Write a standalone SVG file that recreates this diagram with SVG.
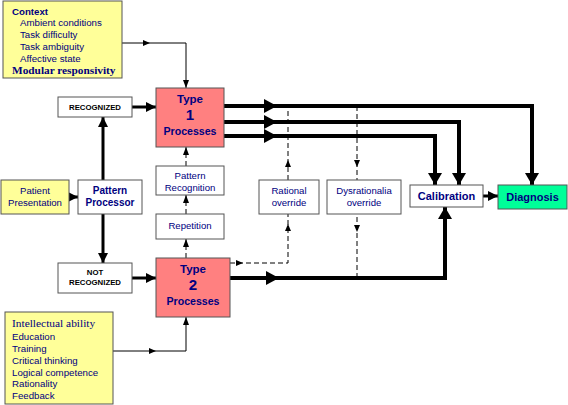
<svg xmlns="http://www.w3.org/2000/svg" width="568" height="405" viewBox="0 0 568 405">
<style>
.box{stroke:#555;stroke-width:1}
.w{fill:#fff}
.y{fill:#ffff99}
.r{fill:#ff8080}
.g{fill:#00ff99}
text{font-family:"Liberation Sans",Arial,sans-serif;fill:#000080}
.c{text-anchor:middle}
.b{font-weight:bold}
.s{font-size:9.6px}
.k{fill:#000;font-size:7.8px;font-weight:bold}
.tm{font-family:"Liberation Serif","Times New Roman",serif}
.thin{fill:none;stroke:#000;stroke-width:1}
.mid{fill:none;stroke:#000;stroke-width:3}
.thick{fill:none;stroke:#000;stroke-width:4}
.dash{fill:none;stroke:#000;stroke-width:1;stroke-dasharray:5 3}
.ah{fill:#000}
</style>
<defs>
<marker id="aS" viewBox="0 0 8 6" refX="8" refY="3" markerWidth="8" markerHeight="6" markerUnits="userSpaceOnUse" orient="auto"><path d="M0,0 L8,3 L0,6 z" fill="#000"/></marker>
<marker id="aM" viewBox="0 0 10 10" refX="10" refY="5" markerWidth="10" markerHeight="10" markerUnits="userSpaceOnUse" orient="auto"><path d="M0,0 L10,5 L0,10 z" fill="#000"/></marker>
<marker id="aL" viewBox="0 0 12 14" refX="12" refY="7" markerWidth="12" markerHeight="14" markerUnits="userSpaceOnUse" orient="auto"><path d="M0,0 L12,7 L0,14 z" fill="#000"/></marker>
</defs>

<g id="connectors">
<path class="thin" d="M122,43 H186 V88" marker-end="url(#aS)"/>
<path class="ah" d="M143,40 L150,43 L143,46 z"/>
<path class="thin" d="M113,351 H186 V317" marker-end="url(#aS)"/>
<path class="ah" d="M149,348 L156,351 L149,354 z"/>
<path class="mid" d="M69,197 H78" marker-end="url(#aM)"/>
<path class="mid" d="M103,180 V117" marker-end="url(#aM)"/>
<path class="mid" d="M103,214 V263" marker-end="url(#aM)"/>
<path class="mid" d="M132,107 H156" marker-end="url(#aM)"/>
<path class="mid" d="M132,278 H156" marker-end="url(#aM)"/>
<path class="dash" d="M186,258 V239" marker-end="url(#aS)"/>
<path class="dash" d="M186,214 V195" marker-end="url(#aS)"/>
<path class="dash" d="M186,166 V147" marker-end="url(#aS)"/>
<path class="thick" d="M224,106 H532 V185" marker-end="url(#aL)"/>
<path class="thick" d="M224,122 H459 V185" marker-end="url(#aL)"/>
<path class="thick" d="M224,136 H435 V185" marker-end="url(#aL)"/>
<path class="ah" d="M264,99 L277,106 L264,113 z"/>
<path class="ah" d="M264,115 L277,122 L264,129 z"/>
<path class="ah" d="M264,129 L277,136 L264,143 z"/>
<path class="mid" d="M483,196 H498" marker-end="url(#aM)"/>
<path class="thick" d="M230,278 H445 V207" marker-end="url(#aL)"/>
<path class="ah" d="M266,271 L279,278 L266,285 z"/>
<path class="dash" d="M230,263 H288 V214"/>
<path class="ah" d="M236,260 L243,263 L236,266 z"/>
<path class="ah" d="M285,231 L288,224 L291,231 z"/>
<path class="dash" d="M288,180 V106"/>
<path class="ah" d="M285,167 L288,160 L291,167 z"/>
<path class="dash" d="M357,106 V180"/>
<path class="ah" d="M354,160 L357,167 L360,160 z"/>
<path class="dash" d="M357,278 V214"/>
<path class="ah" d="M354,225 L357,232 L360,225 z"/>
</g>

<g id="context">
<rect class="box y" x="3" y="1" width="119" height="77"/>
<text x="12" y="15" class="b" style="font-size:9.7px">Context</text>
<text x="20" y="26" style="font-size:9.7px">Ambient conditions</text>
<text x="20" y="38" style="font-size:9.7px">Task difficulty</text>
<text x="20" y="50" style="font-size:9.7px">Task ambiguity</text>
<text x="20" y="62" style="font-size:9.7px">Affective state</text>
<text x="12" y="74" class="b tm" style="font-size:11.3px">Modular responsivity</text>
</g>

<g id="intellectual">
<rect class="box y" x="5" y="312" width="108" height="92"/>
<text x="12" y="327" class="tm" style="font-size:11.4px">Intellectual ability</text>
<text x="12" y="340" style="font-size:9.7px">Education</text>
<text x="12" y="352" style="font-size:9.7px">Training</text>
<text x="12" y="364" style="font-size:9.7px">Critical thinking</text>
<text x="12" y="376" style="font-size:9.7px">Logical competence</text>
<text x="12" y="387" style="font-size:9.7px">Rationality</text>
<text x="12" y="399" style="font-size:9.7px">Feedback</text>
</g>

<g id="patient">
<rect class="box y" x="1" y="180" width="68" height="34"/>
<text x="35" y="194" class="c s">Patient</text>
<text x="35" y="206" class="c s">Presentation</text>
</g>

<g id="processor">
<rect class="box w" x="78" y="180" width="64" height="34"/>
<text x="110" y="194" class="c b" style="font-size:10px">Pattern</text>
<text x="110" y="206" class="c b" style="font-size:10px">Processor</text>
</g>

<g id="recognized">
<rect class="box w" x="58" y="97" width="74" height="20"/>
<text x="95" y="110" class="c k">RECOGNIZED</text>
</g>

<g id="notrecognized">
<rect class="box w" x="58" y="263" width="74" height="30"/>
<text x="95" y="275" class="c k">NOT</text>
<text x="95" y="285" class="c k">RECOGNIZED</text>
</g>

<g id="type1">
<rect class="box r" x="156" y="88" width="68" height="59"/>
<text x="190" y="103" class="c b" style="font-size:11.5px">Type</text>
<text x="190" y="120" class="c b" style="font-size:15px">1</text>
<text x="190" y="135" class="c b" style="font-size:10.6px">Processes</text>
</g>

<g id="type2">
<rect class="box r" x="156" y="258" width="74" height="59"/>
<text x="193" y="273" class="c b" style="font-size:11.5px">Type</text>
<text x="193" y="290" class="c b" style="font-size:15px">2</text>
<text x="193" y="305" class="c b" style="font-size:10.6px">Processes</text>
</g>

<g id="patternrecognition">
<rect class="box w" x="156" y="166" width="68" height="29"/>
<text x="190" y="179" class="c s">Pattern</text>
<text x="190" y="191" class="c s">Recognition</text>
</g>

<g id="repetition">
<rect class="box w" x="156" y="214" width="68" height="25"/>
<text x="190" y="229" class="c s">Repetition</text>
</g>

<g id="rational">
<rect class="box w" x="259" y="180" width="60" height="34"/>
<text x="289" y="194" class="c s">Rational</text>
<text x="289" y="206" class="c s">override</text>
</g>

<g id="dysrationalia">
<rect class="box w" x="327" y="180" width="74" height="34"/>
<text x="364" y="194" class="c s">Dysrationalia</text>
<text x="364" y="206" class="c s">override</text>
</g>

<g id="calibration">
<rect class="box w" x="410" y="185" width="73" height="22"/>
<text x="446.5" y="200" class="c b" style="font-size:11px">Calibration</text>
</g>

<g id="diagnosis">
<rect class="box g" x="498" y="185" width="69" height="24"/>
<text x="532.5" y="201" class="c b" style="font-size:11px">Diagnosis</text>
</g>
</svg>
